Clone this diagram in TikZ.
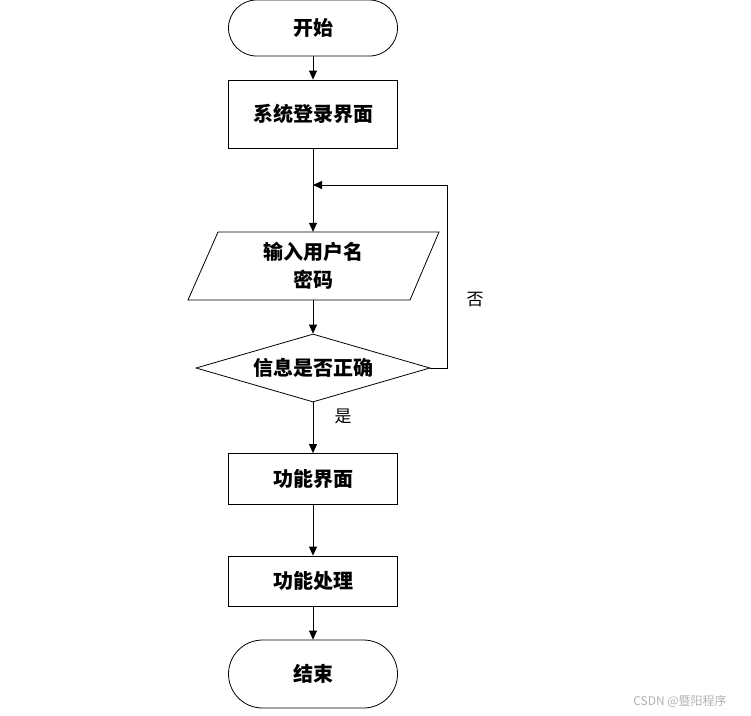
\documentclass[tikz,border=0pt]{standalone}
\usepackage{fontspec}
\setmainfont{Noto Sans CJK SC}
\usetikzlibrary{shapes.geometric,arrows.meta}
\begin{document}
\begin{tikzpicture}[x=1pt,y=-1pt,
  box/.style={draw,thick,minimum width=169pt,inner sep=0pt,font=\fontsize{20}{24}\selectfont\bfseries},
  term/.style={box,rounded corners=28pt},
  arr/.style={thick,-{Triangle[length=9pt,width=8pt]}},
  lbl/.style={font=\fontsize{17}{20}\selectfont}]
\useasboundingbox (0,0) rectangle (751,715);
\node[term,minimum height=56pt] (s) at (313,28) {开始};
\node[box,minimum height=68pt] (l) at (313,114) {系统登录界面};
\draw[thick] (218,232) -- (439,232) -- (410,300) -- (188,300) -- cycle;
\node[align=center,inner sep=0pt,minimum height=68pt,font=\fontsize{20}{28}\selectfont\bfseries] (p) at (313,266) {输入用户名\\密码};
\node[diamond,draw,thick,aspect=3.44,minimum width=234pt,minimum height=68pt,inner sep=0pt,font=\fontsize{20}{24}\selectfont\bfseries] (d) at (313,368) {信息是否正确};
\node[box,minimum height=51pt] (f) at (313,479) {功能界面};
\node[box,minimum height=50pt] (h) at (313,581) {功能处理};
\node[term,minimum height=68pt,rounded corners=34pt] (e) at (313,674) {结束};
\coordinate (j) at (313,185);
\draw[arr] (s) -- (l);
\draw[arr] (l) -- (p);
\draw[arr] (d.east) -- (447,368) -- (447,185) -- (j);
\draw[arr] (p) -- (d);
\draw[arr] (d) -- (f);
\draw[arr] (f) -- (h);
\draw[arr] (h) -- (e);
\node[lbl] (no) at (475,300) {否};
\node[lbl] (yes) at (343,416) {是};
\node[font=\fontsize{12}{14}\selectfont,text=gray!60] (w) at (680,701) {CSDN @暨阳程序};
\end{tikzpicture}
\end{document}
